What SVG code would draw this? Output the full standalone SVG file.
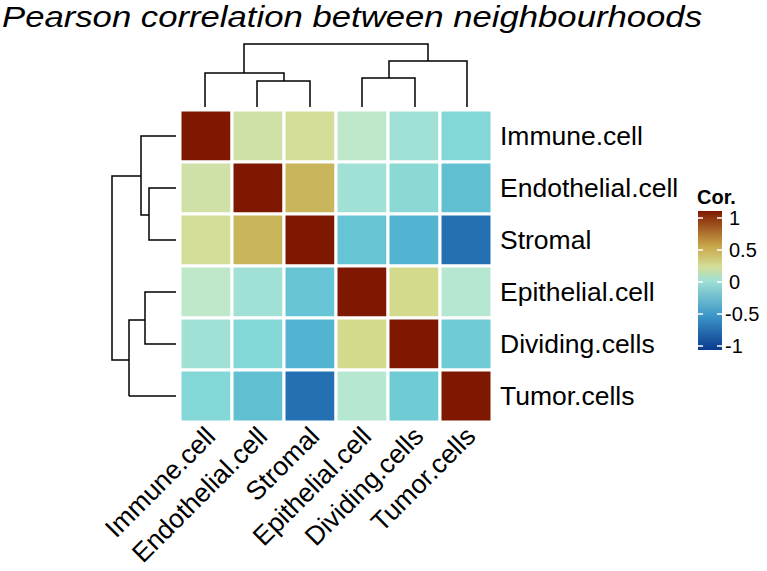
<svg xmlns="http://www.w3.org/2000/svg" width="767" height="571" viewBox="0 0 767 571">
<style>
text{font-family:"Liberation Sans",Arial,sans-serif;fill:#000}
.lab{font-size:26.5px}
.leg{font-size:20px}
.d{stroke:#000;stroke-width:1.5;fill:none}
.c{stroke:#fff;stroke-width:3}
.tk{stroke:#fff;stroke-width:1.5}
</style>
<defs>
<linearGradient id="g" x1="0" y1="0" x2="0" y2="1">
<stop offset="0" stop-color="#7f1800"/>
<stop offset="0.25" stop-color="#c9a548"/>
<stop offset="0.4" stop-color="#d4dd97"/>
<stop offset="0.5" stop-color="#a1e0d4"/>
<stop offset="0.75" stop-color="#3d98c8"/>
<stop offset="1" stop-color="#0a3a8f"/>
</linearGradient>
</defs>
<rect width="767" height="571" fill="#fff"/>
<text x="2" y="27" font-size="29" font-style="italic" textLength="700" lengthAdjust="spacingAndGlyphs">Pearson correlation between neighbourhoods</text>
<g id="connectors" class="d">
<path d="M244 73V44H428V61"/>
<path d="M205 107V73H284V81"/>
<path d="M257 107V81H310V107"/>
<path d="M389 78V61H467V107"/>
<path d="M362 107V78H415V107"/>
<path d="M141 176H112V360H129"/>
<path d="M176 136H141V215H149"/>
<path d="M176 188H149V240H176"/>
<path d="M129 396V320H145"/>
<path d="M129 396H176"/>
<path d="M176 292H145V344H176"/>
</g>
<g id="heatmap" class="c">
<rect x="180" y="110" width="52" height="52" fill="#7f1800"/><rect x="232" y="110" width="52" height="52" fill="#d0e1a8"/><rect x="284" y="110" width="52" height="52" fill="#d4dd97"/><rect x="336" y="110" width="52" height="52" fill="#bfe7ca"/><rect x="388" y="110" width="52" height="52" fill="#a1e0d4"/><rect x="440" y="110" width="52" height="52" fill="#84d7d7"/>
<rect x="180" y="162" width="52" height="52" fill="#d0e1a8"/><rect x="232" y="162" width="52" height="52" fill="#7f1800"/><rect x="284" y="162" width="52" height="52" fill="#c9b55c"/><rect x="336" y="162" width="52" height="52" fill="#a1e0d4"/><rect x="388" y="162" width="52" height="52" fill="#8bd9d5"/><rect x="440" y="162" width="52" height="52" fill="#60c0d2"/>
<rect x="180" y="214" width="52" height="52" fill="#d4dd97"/><rect x="232" y="214" width="52" height="52" fill="#c9b55c"/><rect x="284" y="214" width="52" height="52" fill="#7f1800"/><rect x="336" y="214" width="52" height="52" fill="#66c4d4"/><rect x="388" y="214" width="52" height="52" fill="#52b4d1"/><rect x="440" y="214" width="52" height="52" fill="#2470b3"/>
<rect x="180" y="266" width="52" height="52" fill="#bfe7ca"/><rect x="232" y="266" width="52" height="52" fill="#a1e0d4"/><rect x="284" y="266" width="52" height="52" fill="#66c4d4"/><rect x="336" y="266" width="52" height="52" fill="#7f1800"/><rect x="388" y="266" width="52" height="52" fill="#d4da8c"/><rect x="440" y="266" width="52" height="52" fill="#b6e7d0"/>
<rect x="180" y="318" width="52" height="52" fill="#a1e0d4"/><rect x="232" y="318" width="52" height="52" fill="#84d7d7"/><rect x="284" y="318" width="52" height="52" fill="#52b4d1"/><rect x="336" y="318" width="52" height="52" fill="#d4da8c"/><rect x="388" y="318" width="52" height="52" fill="#7f1800"/><rect x="440" y="318" width="52" height="52" fill="#6fcbd4"/>
<rect x="180" y="370" width="52" height="52" fill="#84d7d7"/><rect x="232" y="370" width="52" height="52" fill="#60c0d2"/><rect x="284" y="370" width="52" height="52" fill="#2470b3"/><rect x="336" y="370" width="52" height="52" fill="#b6e7d0"/><rect x="388" y="370" width="52" height="52" fill="#6fcbd4"/><rect x="440" y="370" width="52" height="52" fill="#7f1800"/>
</g>
<g id="rowlabels" class="lab">
<text x="500" y="145">Immune.cell</text>
<text x="500" y="197">Endothelial.cell</text>
<text x="500" y="249">Stromal</text>
<text x="500" y="301">Epithelial.cell</text>
<text x="500" y="353">Dividing.cells</text>
<text x="500" y="405">Tumor.cells</text>
</g>
<g id="collabels" class="lab" text-anchor="end">
<text transform="translate(217,438) rotate(-45)">Immune.cell</text>
<text transform="translate(269,438) rotate(-45)">Endothelial.cell</text>
<text transform="translate(321,438) rotate(-45)">Stromal</text>
<text transform="translate(373,438) rotate(-45)">Epithelial.cell</text>
<text transform="translate(425,438) rotate(-45)">Dividing.cells</text>
<text transform="translate(477,438) rotate(-45)">Tumor.cells</text>
</g>
<g id="legend">
<text x="697" y="204" font-size="20" font-weight="bold">Cor.</text>
<rect x="698" y="211" width="24" height="139" fill="url(#g)"/>
<g class="tk">
<path d="M698 218h5M717 218h5M698 250h5M717 250h5M698 282h5M717 282h5M698 314h5M717 314h5M698 346h5M717 346h5"/>
</g>
<g class="leg">
<text x="729" y="225">1</text>
<text x="729" y="257">0.5</text>
<text x="729" y="289">0</text>
<text x="725" y="321">-0.5</text>
<text x="725" y="353">-1</text>
</g>
</g>
</svg>
